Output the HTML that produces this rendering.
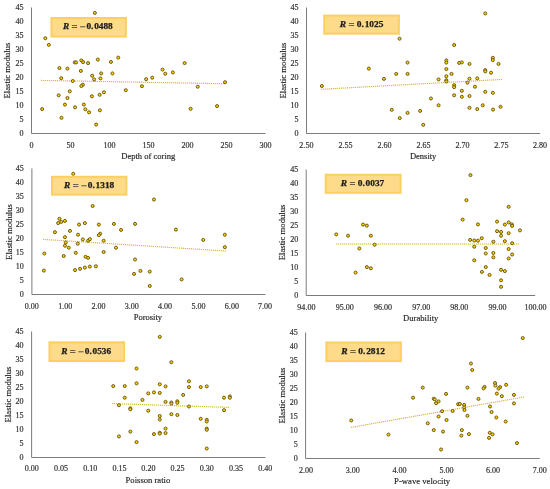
<!DOCTYPE html>
<html><head><meta charset="utf-8"><title>Correlation scatter plots</title>
<style>
html,body{margin:0;padding:0;background:#fff;}
svg{display:block}
text{font-family:"Liberation Serif","DejaVu Serif",serif;fill:#303030}
.t{font-size:8.05px;stroke:#303030;stroke-width:0.18}
.h{font-size:8.8px;fill:#222;stroke:#222;stroke-width:0.15}
.r{font-size:8.5px;font-weight:bold;fill:#1c1c1c;stroke:#1c1c1c;stroke-width:0.25}
.m{fill:#ffd000;stroke:#6b5b14;stroke-width:1.0}
.e{font-size:9.6px;font-weight:normal;stroke-width:0.25;fill:#3a3a3a;stroke:#3a3a3a}
.ax{stroke:#6c6c6c;stroke-width:0.9;fill:none}
.tr{fill:#d5bf40;stroke:none}
.tb{stroke:#f8f4d8;stroke-width:1.2;fill:none}
</style></head><body>
<svg width="550" height="489" viewBox="0 0 550 489">
<defs><filter id="g" x="-10%" y="-20%" width="120%" height="140%"><feGaussianBlur stdDeviation="0.6"/></filter><filter id="g2" x="-10%" y="-20%" width="120%" height="140%"><feGaussianBlur stdDeviation="0.5"/></filter></defs>
<rect width="550" height="489" fill="#fff"/>

<g>
<path class="ax" d="M31.5 7.5V133.5H265.5"/>
<text class="t" x="23.6" y="136.2" text-anchor="end">0</text>
<text class="t" x="23.6" y="122.1" text-anchor="end">5</text>
<text class="t" x="23.6" y="108.0" text-anchor="end">10</text>
<text class="t" x="23.6" y="94.0" text-anchor="end">15</text>
<text class="t" x="23.6" y="79.9" text-anchor="end">20</text>
<text class="t" x="23.6" y="65.8" text-anchor="end">25</text>
<text class="t" x="23.6" y="51.7" text-anchor="end">30</text>
<text class="t" x="23.6" y="37.6" text-anchor="end">35</text>
<text class="t" x="23.6" y="23.6" text-anchor="end">40</text>
<text class="t" x="23.6" y="9.5" text-anchor="end">45</text>
<text class="t" x="31.4" y="147.8" text-anchor="middle">0</text>
<text class="t" x="70.4" y="147.8" text-anchor="middle">50</text>
<text class="t" x="109.5" y="147.8" text-anchor="middle">100</text>
<text class="t" x="148.5" y="147.8" text-anchor="middle">150</text>
<text class="t" x="187.6" y="147.8" text-anchor="middle">200</text>
<text class="t" x="226.6" y="147.8" text-anchor="middle">250</text>
<text class="t" x="265.6" y="147.8" text-anchor="middle">300</text>
<text class="h" x="121.3" y="158.5" textLength="54.0" lengthAdjust="spacingAndGlyphs">Depth of coring</text>
<text class="h" transform="translate(7.6 70.6) rotate(-90)" x="-27.9" y="2.6" textLength="55.8" lengthAdjust="spacingAndGlyphs">Elastic modulus</text>
<path class="tb" d="M41.0 80.5L224.0 83.8"/>
<path class="tr" d="M41 79.8h1.1v1.1h-1.1zM43 79.9h1.1v1.1h-1.1zM45 79.9h1.1v1.1h-1.1zM47 79.9h1.1v1.1h-1.1zM49 80.0h1.1v1.1h-1.1zM51 80.0h1.1v1.1h-1.1zM53 80.1h1.1v1.1h-1.1zM55 80.1h1.1v1.1h-1.1zM57 80.1h1.1v1.1h-1.1zM59 80.2h1.1v1.1h-1.1zM61 80.2h1.1v1.1h-1.1zM63 80.2h1.1v1.1h-1.1zM65 80.3h1.1v1.1h-1.1zM67 80.3h1.1v1.1h-1.1zM69 80.3h1.1v1.1h-1.1zM71 80.4h1.1v1.1h-1.1zM73 80.4h1.1v1.1h-1.1zM75 80.5h1.1v1.1h-1.1zM77 80.5h1.1v1.1h-1.1zM79 80.5h1.1v1.1h-1.1zM81 80.6h1.1v1.1h-1.1zM83 80.6h1.1v1.1h-1.1zM85 80.6h1.1v1.1h-1.1zM87 80.7h1.1v1.1h-1.1zM89 80.7h1.1v1.1h-1.1zM91 80.7h1.1v1.1h-1.1zM93 80.8h1.1v1.1h-1.1zM95 80.8h1.1v1.1h-1.1zM97 80.9h1.1v1.1h-1.1zM99 80.9h1.1v1.1h-1.1zM101 80.9h1.1v1.1h-1.1zM103 81.0h1.1v1.1h-1.1zM105 81.0h1.1v1.1h-1.1zM107 81.0h1.1v1.1h-1.1zM109 81.1h1.1v1.1h-1.1zM111 81.1h1.1v1.1h-1.1zM113 81.1h1.1v1.1h-1.1zM115 81.2h1.1v1.1h-1.1zM117 81.2h1.1v1.1h-1.1zM119 81.3h1.1v1.1h-1.1zM121 81.3h1.1v1.1h-1.1zM123 81.3h1.1v1.1h-1.1zM125 81.4h1.1v1.1h-1.1zM127 81.4h1.1v1.1h-1.1zM129 81.4h1.1v1.1h-1.1zM131 81.5h1.1v1.1h-1.1zM133 81.5h1.1v1.1h-1.1zM135 81.5h1.1v1.1h-1.1zM137 81.6h1.1v1.1h-1.1zM139 81.6h1.1v1.1h-1.1zM141 81.6h1.1v1.1h-1.1zM143 81.7h1.1v1.1h-1.1zM145 81.7h1.1v1.1h-1.1zM147 81.8h1.1v1.1h-1.1zM149 81.8h1.1v1.1h-1.1zM151 81.8h1.1v1.1h-1.1zM153 81.9h1.1v1.1h-1.1zM155 81.9h1.1v1.1h-1.1zM157 81.9h1.1v1.1h-1.1zM159 82.0h1.1v1.1h-1.1zM161 82.0h1.1v1.1h-1.1zM163 82.0h1.1v1.1h-1.1zM165 82.1h1.1v1.1h-1.1zM167 82.1h1.1v1.1h-1.1zM169 82.2h1.1v1.1h-1.1zM171 82.2h1.1v1.1h-1.1zM173 82.2h1.1v1.1h-1.1zM175 82.3h1.1v1.1h-1.1zM177 82.3h1.1v1.1h-1.1zM179 82.3h1.1v1.1h-1.1zM181 82.4h1.1v1.1h-1.1zM183 82.4h1.1v1.1h-1.1zM185 82.4h1.1v1.1h-1.1zM187 82.5h1.1v1.1h-1.1zM189 82.5h1.1v1.1h-1.1zM191 82.6h1.1v1.1h-1.1zM193 82.6h1.1v1.1h-1.1zM195 82.6h1.1v1.1h-1.1zM197 82.7h1.1v1.1h-1.1zM199 82.7h1.1v1.1h-1.1zM201 82.7h1.1v1.1h-1.1zM203 82.8h1.1v1.1h-1.1zM205 82.8h1.1v1.1h-1.1zM207 82.8h1.1v1.1h-1.1zM209 82.9h1.1v1.1h-1.1zM211 82.9h1.1v1.1h-1.1zM213 83.0h1.1v1.1h-1.1zM215 83.0h1.1v1.1h-1.1zM217 83.0h1.1v1.1h-1.1zM219 83.1h1.1v1.1h-1.1zM221 83.1h1.1v1.1h-1.1zM223 83.1h1.1v1.1h-1.1z"/>
<circle class="m" cx="94.85" cy="12.90" r="1.52"/>
<circle class="m" cx="45.35" cy="38.20" r="1.52"/>
<circle class="m" cx="48.85" cy="44.80" r="1.52"/>
<circle class="m" cx="118.25" cy="57.60" r="1.52"/>
<circle class="m" cx="97.85" cy="59.60" r="1.52"/>
<circle class="m" cx="110.95" cy="61.90" r="1.52"/>
<circle class="m" cx="81.35" cy="60.40" r="1.52"/>
<circle class="m" cx="83.05" cy="62.10" r="1.52"/>
<circle class="m" cx="88.05" cy="63.10" r="1.52"/>
<circle class="m" cx="74.75" cy="62.40" r="1.52"/>
<circle class="m" cx="76.05" cy="62.40" r="1.52"/>
<circle class="m" cx="59.45" cy="68.10" r="1.52"/>
<circle class="m" cx="67.45" cy="68.60" r="1.52"/>
<circle class="m" cx="80.85" cy="70.90" r="1.52"/>
<circle class="m" cx="101.15" cy="73.40" r="1.52"/>
<circle class="m" cx="112.45" cy="73.40" r="1.52"/>
<circle class="m" cx="92.15" cy="75.70" r="1.52"/>
<circle class="m" cx="61.25" cy="78.20" r="1.52"/>
<circle class="m" cx="100.45" cy="78.40" r="1.52"/>
<circle class="m" cx="94.15" cy="79.40" r="1.52"/>
<circle class="m" cx="72.75" cy="81.00" r="1.52"/>
<circle class="m" cx="82.85" cy="84.70" r="1.52"/>
<circle class="m" cx="81.35" cy="86.00" r="1.52"/>
<circle class="m" cx="125.75" cy="90.20" r="1.52"/>
<circle class="m" cx="69.75" cy="91.30" r="1.52"/>
<circle class="m" cx="103.95" cy="92.30" r="1.52"/>
<circle class="m" cx="99.65" cy="94.80" r="1.52"/>
<circle class="m" cx="58.65" cy="95.30" r="1.52"/>
<circle class="m" cx="91.85" cy="96.30" r="1.52"/>
<circle class="m" cx="67.45" cy="98.00" r="1.52"/>
<circle class="m" cx="64.95" cy="104.60" r="1.52"/>
<circle class="m" cx="83.85" cy="104.60" r="1.52"/>
<circle class="m" cx="75.05" cy="107.30" r="1.52"/>
<circle class="m" cx="42.15" cy="109.10" r="1.52"/>
<circle class="m" cx="85.35" cy="109.30" r="1.52"/>
<circle class="m" cx="99.85" cy="110.30" r="1.52"/>
<circle class="m" cx="89.05" cy="112.30" r="1.52"/>
<circle class="m" cx="61.45" cy="117.80" r="1.52"/>
<circle class="m" cx="96.15" cy="124.50" r="1.52"/>
<circle class="m" cx="184.65" cy="63.10" r="1.52"/>
<circle class="m" cx="162.55" cy="69.60" r="1.52"/>
<circle class="m" cx="172.85" cy="72.40" r="1.52"/>
<circle class="m" cx="165.25" cy="73.70" r="1.52"/>
<circle class="m" cx="152.25" cy="77.70" r="1.52"/>
<circle class="m" cx="146.15" cy="79.20" r="1.52"/>
<circle class="m" cx="225.05" cy="82.20" r="1.52"/>
<circle class="m" cx="141.95" cy="86.20" r="1.52"/>
<circle class="m" cx="197.75" cy="86.70" r="1.52"/>
<circle class="m" cx="217.05" cy="106.10" r="1.52"/>
<circle class="m" cx="190.65" cy="108.80" r="1.52"/>
<rect x="50.4" y="17.0" width="76.5" height="20.6" fill="#fccf63" filter="url(#g)"/>
<rect x="52.4" y="19.0" width="72.5" height="16.6" fill="#fddb8b" filter="url(#g2)"/>
<text class="r" x="62.9" y="29.1" textLength="49.9" lengthAdjust="spacingAndGlyphs"><tspan font-style="italic">R</tspan> <tspan class="e" dy="1.0">=</tspan><tspan dy="-1.0"> </tspan><tspan class="e" dy="1.0">−</tspan><tspan dy="-1.0"> </tspan>0. 0488</text>
</g>
<g>
<path class="ax" d="M306.5 7.5V133.5H540.2"/>
<text class="t" x="298.6" y="135.8" text-anchor="end">0</text>
<text class="t" x="298.6" y="121.8" text-anchor="end">5</text>
<text class="t" x="298.6" y="107.8" text-anchor="end">10</text>
<text class="t" x="298.6" y="93.8" text-anchor="end">15</text>
<text class="t" x="298.6" y="79.8" text-anchor="end">20</text>
<text class="t" x="298.6" y="65.8" text-anchor="end">25</text>
<text class="t" x="298.6" y="51.9" text-anchor="end">30</text>
<text class="t" x="298.6" y="37.9" text-anchor="end">35</text>
<text class="t" x="298.6" y="23.9" text-anchor="end">40</text>
<text class="t" x="298.6" y="9.9" text-anchor="end">45</text>
<text class="t" x="306.4" y="148.1" text-anchor="middle">2.50</text>
<text class="t" x="345.5" y="148.1" text-anchor="middle">2.55</text>
<text class="t" x="384.5" y="148.1" text-anchor="middle">2.60</text>
<text class="t" x="423.5" y="148.1" text-anchor="middle">2.65</text>
<text class="t" x="462.5" y="148.1" text-anchor="middle">2.70</text>
<text class="t" x="501.4" y="148.1" text-anchor="middle">2.75</text>
<text class="t" x="540.0" y="148.1" text-anchor="middle">2.80</text>
<text class="h" x="409.9" y="158.5" textLength="26.5" lengthAdjust="spacingAndGlyphs">Density</text>
<text class="h" transform="translate(282.9 70.6) rotate(-90)" x="-27.9" y="2.6" textLength="55.8" lengthAdjust="spacingAndGlyphs">Elastic modulus</text>
<path class="tb" d="M321.0 89.3L502.0 79.5"/>
<path class="tr" d="M321 88.7h1.1v1.1h-1.1zM323 88.6h1.1v1.1h-1.1zM325 88.5h1.1v1.1h-1.1zM327 88.4h1.1v1.1h-1.1zM329 88.3h1.1v1.1h-1.1zM331 88.1h1.1v1.1h-1.1zM333 88.0h1.1v1.1h-1.1zM335 87.9h1.1v1.1h-1.1zM337 87.8h1.1v1.1h-1.1zM339 87.7h1.1v1.1h-1.1zM341 87.6h1.1v1.1h-1.1zM343 87.5h1.1v1.1h-1.1zM345 87.4h1.1v1.1h-1.1zM347 87.3h1.1v1.1h-1.1zM349 87.2h1.1v1.1h-1.1zM351 87.1h1.1v1.1h-1.1zM353 86.9h1.1v1.1h-1.1zM355 86.8h1.1v1.1h-1.1zM357 86.7h1.1v1.1h-1.1zM359 86.6h1.1v1.1h-1.1zM361 86.5h1.1v1.1h-1.1zM363 86.4h1.1v1.1h-1.1zM365 86.3h1.1v1.1h-1.1zM367 86.2h1.1v1.1h-1.1zM369 86.1h1.1v1.1h-1.1zM371 86.0h1.1v1.1h-1.1zM373 85.8h1.1v1.1h-1.1zM375 85.7h1.1v1.1h-1.1zM377 85.6h1.1v1.1h-1.1zM379 85.5h1.1v1.1h-1.1zM381 85.4h1.1v1.1h-1.1zM383 85.3h1.1v1.1h-1.1zM385 85.2h1.1v1.1h-1.1zM387 85.1h1.1v1.1h-1.1zM389 85.0h1.1v1.1h-1.1zM391 84.9h1.1v1.1h-1.1zM393 84.8h1.1v1.1h-1.1zM395 84.6h1.1v1.1h-1.1zM397 84.5h1.1v1.1h-1.1zM399 84.4h1.1v1.1h-1.1zM401 84.3h1.1v1.1h-1.1zM403 84.2h1.1v1.1h-1.1zM405 84.1h1.1v1.1h-1.1zM407 84.0h1.1v1.1h-1.1zM409 83.9h1.1v1.1h-1.1zM411 83.8h1.1v1.1h-1.1zM413 83.7h1.1v1.1h-1.1zM415 83.6h1.1v1.1h-1.1zM417 83.4h1.1v1.1h-1.1zM419 83.3h1.1v1.1h-1.1zM421 83.2h1.1v1.1h-1.1zM423 83.1h1.1v1.1h-1.1zM425 83.0h1.1v1.1h-1.1zM427 82.9h1.1v1.1h-1.1zM429 82.8h1.1v1.1h-1.1zM431 82.7h1.1v1.1h-1.1zM433 82.6h1.1v1.1h-1.1zM435 82.5h1.1v1.1h-1.1zM437 82.4h1.1v1.1h-1.1zM439 82.2h1.1v1.1h-1.1zM441 82.1h1.1v1.1h-1.1zM443 82.0h1.1v1.1h-1.1zM445 81.9h1.1v1.1h-1.1zM447 81.8h1.1v1.1h-1.1zM449 81.7h1.1v1.1h-1.1zM451 81.6h1.1v1.1h-1.1zM453 81.5h1.1v1.1h-1.1zM455 81.4h1.1v1.1h-1.1zM457 81.3h1.1v1.1h-1.1zM459 81.2h1.1v1.1h-1.1zM461 81.0h1.1v1.1h-1.1zM463 80.9h1.1v1.1h-1.1zM465 80.8h1.1v1.1h-1.1zM467 80.7h1.1v1.1h-1.1zM469 80.6h1.1v1.1h-1.1zM471 80.5h1.1v1.1h-1.1zM473 80.4h1.1v1.1h-1.1zM475 80.3h1.1v1.1h-1.1zM477 80.2h1.1v1.1h-1.1zM479 80.1h1.1v1.1h-1.1zM481 80.0h1.1v1.1h-1.1zM483 79.8h1.1v1.1h-1.1zM485 79.7h1.1v1.1h-1.1zM487 79.6h1.1v1.1h-1.1zM489 79.5h1.1v1.1h-1.1zM491 79.4h1.1v1.1h-1.1zM493 79.3h1.1v1.1h-1.1zM495 79.2h1.1v1.1h-1.1zM497 79.1h1.1v1.1h-1.1zM499 79.0h1.1v1.1h-1.1zM501 78.9h1.1v1.1h-1.1z"/>
<circle class="m" cx="399.55" cy="38.70" r="1.52"/>
<circle class="m" cx="407.55" cy="62.60" r="1.52"/>
<circle class="m" cx="368.85" cy="68.60" r="1.52"/>
<circle class="m" cx="396.25" cy="73.90" r="1.52"/>
<circle class="m" cx="407.55" cy="73.90" r="1.52"/>
<circle class="m" cx="383.95" cy="78.90" r="1.52"/>
<circle class="m" cx="321.85" cy="86.00" r="1.52"/>
<circle class="m" cx="391.75" cy="109.80" r="1.52"/>
<circle class="m" cx="407.55" cy="112.90" r="1.52"/>
<circle class="m" cx="399.75" cy="118.10" r="1.52"/>
<circle class="m" cx="485.25" cy="13.40" r="1.52"/>
<circle class="m" cx="454.15" cy="45.00" r="1.52"/>
<circle class="m" cx="492.85" cy="57.80" r="1.52"/>
<circle class="m" cx="492.85" cy="60.10" r="1.52"/>
<circle class="m" cx="446.35" cy="60.40" r="1.52"/>
<circle class="m" cx="446.35" cy="62.60" r="1.52"/>
<circle class="m" cx="459.15" cy="62.90" r="1.52"/>
<circle class="m" cx="461.85" cy="62.40" r="1.52"/>
<circle class="m" cx="469.45" cy="63.90" r="1.52"/>
<circle class="m" cx="498.55" cy="63.90" r="1.52"/>
<circle class="m" cx="446.35" cy="69.10" r="1.52"/>
<circle class="m" cx="485.25" cy="70.10" r="1.52"/>
<circle class="m" cx="485.25" cy="71.40" r="1.52"/>
<circle class="m" cx="491.05" cy="72.70" r="1.52"/>
<circle class="m" cx="451.55" cy="73.90" r="1.52"/>
<circle class="m" cx="446.35" cy="76.20" r="1.52"/>
<circle class="m" cx="438.55" cy="79.40" r="1.52"/>
<circle class="m" cx="469.45" cy="78.70" r="1.52"/>
<circle class="m" cx="477.25" cy="78.40" r="1.52"/>
<circle class="m" cx="446.35" cy="80.20" r="1.52"/>
<circle class="m" cx="446.35" cy="81.50" r="1.52"/>
<circle class="m" cx="467.45" cy="82.70" r="1.52"/>
<circle class="m" cx="454.15" cy="85.20" r="1.52"/>
<circle class="m" cx="454.15" cy="87.20" r="1.52"/>
<circle class="m" cx="474.95" cy="86.70" r="1.52"/>
<circle class="m" cx="461.85" cy="90.80" r="1.52"/>
<circle class="m" cx="485.25" cy="91.80" r="1.52"/>
<circle class="m" cx="492.85" cy="92.80" r="1.52"/>
<circle class="m" cx="454.15" cy="95.30" r="1.52"/>
<circle class="m" cx="461.85" cy="96.80" r="1.52"/>
<circle class="m" cx="469.45" cy="96.00" r="1.52"/>
<circle class="m" cx="430.95" cy="98.50" r="1.52"/>
<circle class="m" cx="438.55" cy="105.30" r="1.52"/>
<circle class="m" cx="482.75" cy="105.30" r="1.52"/>
<circle class="m" cx="500.55" cy="106.80" r="1.52"/>
<circle class="m" cx="469.45" cy="107.80" r="1.52"/>
<circle class="m" cx="477.25" cy="109.10" r="1.52"/>
<circle class="m" cx="493.05" cy="109.60" r="1.52"/>
<circle class="m" cx="420.15" cy="110.90" r="1.52"/>
<circle class="m" cx="423.25" cy="124.80" r="1.52"/>
<rect x="323.2" y="14.6" width="76.7" height="20.1" fill="#fccf63" filter="url(#g)"/>
<rect x="325.2" y="16.6" width="72.7" height="16.1" fill="#fddb8b" filter="url(#g2)"/>
<text class="r" x="339.8" y="27.0" textLength="43.7" lengthAdjust="spacingAndGlyphs"><tspan font-style="italic">R</tspan> <tspan class="e" dy="1.0">=</tspan><tspan dy="-1.0"> </tspan>0. 1025</text>
</g>
<g>
<path class="ax" d="M31.9 168.4V294.5H265.5"/>
<text class="t" x="23.7" y="296.8" text-anchor="end">0</text>
<text class="t" x="23.7" y="282.9" text-anchor="end">5</text>
<text class="t" x="23.7" y="268.9" text-anchor="end">10</text>
<text class="t" x="23.7" y="255.0" text-anchor="end">15</text>
<text class="t" x="23.7" y="241.0" text-anchor="end">20</text>
<text class="t" x="23.7" y="227.1" text-anchor="end">25</text>
<text class="t" x="23.7" y="213.2" text-anchor="end">30</text>
<text class="t" x="23.7" y="199.2" text-anchor="end">35</text>
<text class="t" x="23.7" y="185.3" text-anchor="end">40</text>
<text class="t" x="23.7" y="171.3" text-anchor="end">45</text>
<text class="t" x="31.7" y="308.9" text-anchor="middle">0.00</text>
<text class="t" x="65.2" y="308.9" text-anchor="middle">1.00</text>
<text class="t" x="98.5" y="308.9" text-anchor="middle">2.00</text>
<text class="t" x="131.8" y="308.9" text-anchor="middle">3.00</text>
<text class="t" x="165.1" y="308.9" text-anchor="middle">4.00</text>
<text class="t" x="198.5" y="308.9" text-anchor="middle">5.00</text>
<text class="t" x="231.9" y="308.9" text-anchor="middle">6.00</text>
<text class="t" x="265.0" y="308.9" text-anchor="middle">7.00</text>
<text class="h" x="133.7" y="320.0" textLength="28.4" lengthAdjust="spacingAndGlyphs">Porosity</text>
<text class="h" transform="translate(8.9 232.0) rotate(-90)" x="-27.9" y="2.6" textLength="55.8" lengthAdjust="spacingAndGlyphs">Elastic modulus</text>
<path class="tb" d="M43.0 239.5L226.0 251.1"/>
<path class="tr" d="M43 238.8h1.1v1.1h-1.1zM45 239.0h1.1v1.1h-1.1zM47 239.1h1.1v1.1h-1.1zM49 239.2h1.1v1.1h-1.1zM51 239.3h1.1v1.1h-1.1zM53 239.5h1.1v1.1h-1.1zM55 239.6h1.1v1.1h-1.1zM57 239.7h1.1v1.1h-1.1zM59 239.9h1.1v1.1h-1.1zM61 240.0h1.1v1.1h-1.1zM63 240.1h1.1v1.1h-1.1zM65 240.2h1.1v1.1h-1.1zM67 240.4h1.1v1.1h-1.1zM69 240.5h1.1v1.1h-1.1zM71 240.6h1.1v1.1h-1.1zM73 240.7h1.1v1.1h-1.1zM75 240.9h1.1v1.1h-1.1zM77 241.0h1.1v1.1h-1.1zM79 241.1h1.1v1.1h-1.1zM81 241.3h1.1v1.1h-1.1zM83 241.4h1.1v1.1h-1.1zM85 241.5h1.1v1.1h-1.1zM87 241.6h1.1v1.1h-1.1zM89 241.8h1.1v1.1h-1.1zM91 241.9h1.1v1.1h-1.1zM93 242.0h1.1v1.1h-1.1zM95 242.1h1.1v1.1h-1.1zM97 242.3h1.1v1.1h-1.1zM99 242.4h1.1v1.1h-1.1zM101 242.5h1.1v1.1h-1.1zM103 242.7h1.1v1.1h-1.1zM105 242.8h1.1v1.1h-1.1zM107 242.9h1.1v1.1h-1.1zM109 243.0h1.1v1.1h-1.1zM111 243.2h1.1v1.1h-1.1zM113 243.3h1.1v1.1h-1.1zM115 243.4h1.1v1.1h-1.1zM117 243.5h1.1v1.1h-1.1zM119 243.7h1.1v1.1h-1.1zM121 243.8h1.1v1.1h-1.1zM123 243.9h1.1v1.1h-1.1zM125 244.1h1.1v1.1h-1.1zM127 244.2h1.1v1.1h-1.1zM129 244.3h1.1v1.1h-1.1zM131 244.4h1.1v1.1h-1.1zM133 244.6h1.1v1.1h-1.1zM135 244.7h1.1v1.1h-1.1zM137 244.8h1.1v1.1h-1.1zM139 244.9h1.1v1.1h-1.1zM141 245.1h1.1v1.1h-1.1zM143 245.2h1.1v1.1h-1.1zM145 245.3h1.1v1.1h-1.1zM147 245.5h1.1v1.1h-1.1zM149 245.6h1.1v1.1h-1.1zM151 245.7h1.1v1.1h-1.1zM153 245.8h1.1v1.1h-1.1zM155 246.0h1.1v1.1h-1.1zM157 246.1h1.1v1.1h-1.1zM159 246.2h1.1v1.1h-1.1zM161 246.3h1.1v1.1h-1.1zM163 246.5h1.1v1.1h-1.1zM165 246.6h1.1v1.1h-1.1zM167 246.7h1.1v1.1h-1.1zM169 246.9h1.1v1.1h-1.1zM171 247.0h1.1v1.1h-1.1zM173 247.1h1.1v1.1h-1.1zM175 247.2h1.1v1.1h-1.1zM177 247.4h1.1v1.1h-1.1zM179 247.5h1.1v1.1h-1.1zM181 247.6h1.1v1.1h-1.1zM183 247.8h1.1v1.1h-1.1zM185 247.9h1.1v1.1h-1.1zM187 248.0h1.1v1.1h-1.1zM189 248.1h1.1v1.1h-1.1zM191 248.3h1.1v1.1h-1.1zM193 248.4h1.1v1.1h-1.1zM195 248.5h1.1v1.1h-1.1zM197 248.6h1.1v1.1h-1.1zM199 248.8h1.1v1.1h-1.1zM201 248.9h1.1v1.1h-1.1zM203 249.0h1.1v1.1h-1.1zM205 249.2h1.1v1.1h-1.1zM207 249.3h1.1v1.1h-1.1zM209 249.4h1.1v1.1h-1.1zM211 249.5h1.1v1.1h-1.1zM213 249.7h1.1v1.1h-1.1zM215 249.8h1.1v1.1h-1.1zM217 249.9h1.1v1.1h-1.1zM219 250.0h1.1v1.1h-1.1zM221 250.2h1.1v1.1h-1.1zM223 250.3h1.1v1.1h-1.1zM225 250.4h1.1v1.1h-1.1z"/>
<circle class="m" cx="73.25" cy="173.80" r="1.52"/>
<circle class="m" cx="92.65" cy="206.00" r="1.52"/>
<circle class="m" cx="59.45" cy="218.80" r="1.52"/>
<circle class="m" cx="58.15" cy="223.10" r="1.52"/>
<circle class="m" cx="61.25" cy="221.90" r="1.52"/>
<circle class="m" cx="64.95" cy="220.90" r="1.52"/>
<circle class="m" cx="84.85" cy="223.10" r="1.52"/>
<circle class="m" cx="79.05" cy="224.60" r="1.52"/>
<circle class="m" cx="98.85" cy="224.60" r="1.52"/>
<circle class="m" cx="113.95" cy="223.90" r="1.52"/>
<circle class="m" cx="135.05" cy="223.90" r="1.52"/>
<circle class="m" cx="121.05" cy="229.90" r="1.52"/>
<circle class="m" cx="69.95" cy="230.90" r="1.52"/>
<circle class="m" cx="54.95" cy="232.20" r="1.52"/>
<circle class="m" cx="78.05" cy="234.70" r="1.52"/>
<circle class="m" cx="100.15" cy="233.70" r="1.52"/>
<circle class="m" cx="98.85" cy="235.20" r="1.52"/>
<circle class="m" cx="64.95" cy="237.20" r="1.52"/>
<circle class="m" cx="82.85" cy="239.40" r="1.52"/>
<circle class="m" cx="88.05" cy="240.70" r="1.52"/>
<circle class="m" cx="89.85" cy="239.20" r="1.52"/>
<circle class="m" cx="103.65" cy="240.70" r="1.52"/>
<circle class="m" cx="65.75" cy="242.50" r="1.52"/>
<circle class="m" cx="77.75" cy="243.70" r="1.52"/>
<circle class="m" cx="64.95" cy="245.70" r="1.52"/>
<circle class="m" cx="68.75" cy="247.70" r="1.52"/>
<circle class="m" cx="115.95" cy="247.70" r="1.52"/>
<circle class="m" cx="75.75" cy="252.80" r="1.52"/>
<circle class="m" cx="103.65" cy="252.00" r="1.52"/>
<circle class="m" cx="44.35" cy="253.50" r="1.52"/>
<circle class="m" cx="63.75" cy="256.00" r="1.52"/>
<circle class="m" cx="85.55" cy="256.80" r="1.52"/>
<circle class="m" cx="88.05" cy="257.80" r="1.52"/>
<circle class="m" cx="135.05" cy="259.50" r="1.52"/>
<circle class="m" cx="95.85" cy="266.30" r="1.52"/>
<circle class="m" cx="89.85" cy="266.60" r="1.52"/>
<circle class="m" cx="84.85" cy="267.60" r="1.52"/>
<circle class="m" cx="80.05" cy="268.80" r="1.52"/>
<circle class="m" cx="75.05" cy="270.10" r="1.52"/>
<circle class="m" cx="43.85" cy="270.60" r="1.52"/>
<circle class="m" cx="134.05" cy="273.90" r="1.52"/>
<circle class="m" cx="153.95" cy="199.50" r="1.52"/>
<circle class="m" cx="175.85" cy="229.60" r="1.52"/>
<circle class="m" cx="224.85" cy="234.70" r="1.52"/>
<circle class="m" cx="203.25" cy="239.90" r="1.52"/>
<circle class="m" cx="224.85" cy="247.20" r="1.52"/>
<circle class="m" cx="140.45" cy="270.90" r="1.52"/>
<circle class="m" cx="149.75" cy="271.60" r="1.52"/>
<circle class="m" cx="181.65" cy="279.40" r="1.52"/>
<circle class="m" cx="149.75" cy="286.00" r="1.52"/>
<rect x="51.0" y="175.8" width="76.4" height="19.9" fill="#fccf63" filter="url(#g)"/>
<rect x="53.0" y="177.8" width="72.4" height="15.9" fill="#fddb8b" filter="url(#g2)"/>
<text class="r" x="64.1" y="187.7" textLength="50.2" lengthAdjust="spacingAndGlyphs"><tspan font-style="italic">R</tspan> <tspan class="e" dy="1.0">=</tspan><tspan dy="-1.0"> </tspan><tspan class="e" dy="1.0">−</tspan><tspan dy="-1.0"> </tspan>0. 1318</text>
</g>
<g>
<path class="ax" d="M306.2 169.5V295.5H535.2"/>
<text class="t" x="298.2" y="298.2" text-anchor="end">0</text>
<text class="t" x="298.2" y="284.2" text-anchor="end">5</text>
<text class="t" x="298.2" y="270.1" text-anchor="end">10</text>
<text class="t" x="298.2" y="256.1" text-anchor="end">15</text>
<text class="t" x="298.2" y="242.0" text-anchor="end">20</text>
<text class="t" x="298.2" y="228.0" text-anchor="end">25</text>
<text class="t" x="298.2" y="214.0" text-anchor="end">30</text>
<text class="t" x="298.2" y="199.9" text-anchor="end">35</text>
<text class="t" x="298.2" y="185.9" text-anchor="end">40</text>
<text class="t" x="298.2" y="171.8" text-anchor="end">45</text>
<text class="t" x="306.4" y="309.7" text-anchor="middle">94.00</text>
<text class="t" x="344.7" y="309.7" text-anchor="middle">95.00</text>
<text class="t" x="383.1" y="309.7" text-anchor="middle">96.00</text>
<text class="t" x="421.2" y="309.7" text-anchor="middle">97.00</text>
<text class="t" x="459.3" y="309.7" text-anchor="middle">98.00</text>
<text class="t" x="497.5" y="309.7" text-anchor="middle">99.00</text>
<text class="t" x="535.5" y="309.7" text-anchor="middle">100.00</text>
<text class="h" x="403.1" y="321.0" textLength="35.3" lengthAdjust="spacingAndGlyphs">Durability</text>
<text class="h" transform="translate(282.6 232.4) rotate(-90)" x="-27.9" y="2.6" textLength="55.8" lengthAdjust="spacingAndGlyphs">Elastic modulus</text>
<path class="tb" d="M336.0 244.2L519.0 244.2"/>
<path class="tr" d="M336 243.5h1.1v1.1h-1.1zM338 243.5h1.1v1.1h-1.1zM340 243.5h1.1v1.1h-1.1zM342 243.5h1.1v1.1h-1.1zM344 243.5h1.1v1.1h-1.1zM346 243.5h1.1v1.1h-1.1zM348 243.5h1.1v1.1h-1.1zM350 243.5h1.1v1.1h-1.1zM352 243.5h1.1v1.1h-1.1zM354 243.5h1.1v1.1h-1.1zM356 243.5h1.1v1.1h-1.1zM358 243.5h1.1v1.1h-1.1zM360 243.5h1.1v1.1h-1.1zM362 243.5h1.1v1.1h-1.1zM364 243.5h1.1v1.1h-1.1zM366 243.5h1.1v1.1h-1.1zM368 243.5h1.1v1.1h-1.1zM370 243.5h1.1v1.1h-1.1zM372 243.5h1.1v1.1h-1.1zM374 243.5h1.1v1.1h-1.1zM376 243.5h1.1v1.1h-1.1zM378 243.5h1.1v1.1h-1.1zM380 243.5h1.1v1.1h-1.1zM382 243.5h1.1v1.1h-1.1zM384 243.5h1.1v1.1h-1.1zM386 243.5h1.1v1.1h-1.1zM388 243.5h1.1v1.1h-1.1zM390 243.5h1.1v1.1h-1.1zM392 243.5h1.1v1.1h-1.1zM394 243.5h1.1v1.1h-1.1zM396 243.5h1.1v1.1h-1.1zM398 243.5h1.1v1.1h-1.1zM400 243.5h1.1v1.1h-1.1zM402 243.5h1.1v1.1h-1.1zM404 243.5h1.1v1.1h-1.1zM406 243.5h1.1v1.1h-1.1zM408 243.5h1.1v1.1h-1.1zM410 243.5h1.1v1.1h-1.1zM412 243.5h1.1v1.1h-1.1zM414 243.5h1.1v1.1h-1.1zM416 243.5h1.1v1.1h-1.1zM418 243.5h1.1v1.1h-1.1zM420 243.5h1.1v1.1h-1.1zM422 243.5h1.1v1.1h-1.1zM424 243.5h1.1v1.1h-1.1zM426 243.5h1.1v1.1h-1.1zM428 243.5h1.1v1.1h-1.1zM430 243.5h1.1v1.1h-1.1zM432 243.5h1.1v1.1h-1.1zM434 243.5h1.1v1.1h-1.1zM436 243.5h1.1v1.1h-1.1zM438 243.5h1.1v1.1h-1.1zM440 243.5h1.1v1.1h-1.1zM442 243.5h1.1v1.1h-1.1zM444 243.5h1.1v1.1h-1.1zM446 243.5h1.1v1.1h-1.1zM448 243.5h1.1v1.1h-1.1zM450 243.5h1.1v1.1h-1.1zM452 243.5h1.1v1.1h-1.1zM454 243.5h1.1v1.1h-1.1zM456 243.5h1.1v1.1h-1.1zM458 243.5h1.1v1.1h-1.1zM460 243.5h1.1v1.1h-1.1zM462 243.5h1.1v1.1h-1.1zM464 243.5h1.1v1.1h-1.1zM466 243.5h1.1v1.1h-1.1zM468 243.5h1.1v1.1h-1.1zM470 243.5h1.1v1.1h-1.1zM472 243.5h1.1v1.1h-1.1zM474 243.5h1.1v1.1h-1.1zM476 243.5h1.1v1.1h-1.1zM478 243.5h1.1v1.1h-1.1zM480 243.5h1.1v1.1h-1.1zM482 243.5h1.1v1.1h-1.1zM484 243.5h1.1v1.1h-1.1zM486 243.5h1.1v1.1h-1.1zM488 243.5h1.1v1.1h-1.1zM490 243.5h1.1v1.1h-1.1zM492 243.5h1.1v1.1h-1.1zM494 243.5h1.1v1.1h-1.1zM496 243.5h1.1v1.1h-1.1zM498 243.5h1.1v1.1h-1.1zM500 243.5h1.1v1.1h-1.1zM502 243.5h1.1v1.1h-1.1zM504 243.5h1.1v1.1h-1.1zM506 243.5h1.1v1.1h-1.1zM508 243.5h1.1v1.1h-1.1zM510 243.5h1.1v1.1h-1.1zM512 243.5h1.1v1.1h-1.1zM514 243.5h1.1v1.1h-1.1zM516 243.5h1.1v1.1h-1.1zM518 243.5h1.1v1.1h-1.1z"/>
<circle class="m" cx="363.05" cy="224.60" r="1.52"/>
<circle class="m" cx="366.85" cy="225.60" r="1.52"/>
<circle class="m" cx="336.25" cy="234.40" r="1.52"/>
<circle class="m" cx="348.05" cy="235.70" r="1.52"/>
<circle class="m" cx="370.85" cy="235.70" r="1.52"/>
<circle class="m" cx="374.65" cy="244.70" r="1.52"/>
<circle class="m" cx="359.35" cy="248.50" r="1.52"/>
<circle class="m" cx="366.85" cy="267.10" r="1.52"/>
<circle class="m" cx="370.85" cy="268.30" r="1.52"/>
<circle class="m" cx="355.55" cy="272.60" r="1.52"/>
<circle class="m" cx="470.45" cy="175.10" r="1.52"/>
<circle class="m" cx="466.45" cy="200.20" r="1.52"/>
<circle class="m" cx="508.65" cy="206.80" r="1.52"/>
<circle class="m" cx="462.65" cy="219.60" r="1.52"/>
<circle class="m" cx="497.05" cy="221.60" r="1.52"/>
<circle class="m" cx="508.65" cy="222.40" r="1.52"/>
<circle class="m" cx="477.95" cy="224.40" r="1.52"/>
<circle class="m" cx="504.85" cy="224.60" r="1.52"/>
<circle class="m" cx="511.85" cy="224.40" r="1.52"/>
<circle class="m" cx="512.15" cy="225.90" r="1.52"/>
<circle class="m" cx="519.95" cy="230.40" r="1.52"/>
<circle class="m" cx="497.05" cy="231.20" r="1.52"/>
<circle class="m" cx="501.05" cy="231.90" r="1.52"/>
<circle class="m" cx="508.65" cy="233.20" r="1.52"/>
<circle class="m" cx="501.05" cy="235.70" r="1.52"/>
<circle class="m" cx="481.75" cy="238.20" r="1.52"/>
<circle class="m" cx="470.15" cy="239.90" r="1.52"/>
<circle class="m" cx="474.25" cy="240.50" r="1.52"/>
<circle class="m" cx="477.95" cy="240.70" r="1.52"/>
<circle class="m" cx="493.35" cy="241.70" r="1.52"/>
<circle class="m" cx="504.85" cy="241.20" r="1.52"/>
<circle class="m" cx="512.15" cy="243.20" r="1.52"/>
<circle class="m" cx="474.25" cy="246.70" r="1.52"/>
<circle class="m" cx="485.75" cy="248.00" r="1.52"/>
<circle class="m" cx="508.65" cy="249.00" r="1.52"/>
<circle class="m" cx="485.75" cy="253.50" r="1.52"/>
<circle class="m" cx="493.35" cy="253.00" r="1.52"/>
<circle class="m" cx="512.15" cy="254.50" r="1.52"/>
<circle class="m" cx="493.35" cy="257.30" r="1.52"/>
<circle class="m" cx="508.65" cy="258.50" r="1.52"/>
<circle class="m" cx="474.25" cy="260.30" r="1.52"/>
<circle class="m" cx="485.75" cy="267.10" r="1.52"/>
<circle class="m" cx="501.05" cy="269.80" r="1.52"/>
<circle class="m" cx="504.85" cy="271.10" r="1.52"/>
<circle class="m" cx="481.95" cy="271.90" r="1.52"/>
<circle class="m" cx="489.55" cy="274.90" r="1.52"/>
<circle class="m" cx="501.05" cy="280.30" r="1.52"/>
<circle class="m" cx="501.05" cy="286.80" r="1.52"/>
<rect x="324.7" y="173.7" width="76.9" height="20.1" fill="#fccf63" filter="url(#g)"/>
<rect x="326.7" y="175.7" width="72.9" height="16.1" fill="#fddb8b" filter="url(#g2)"/>
<text class="r" x="340.8" y="185.9" textLength="43.5" lengthAdjust="spacingAndGlyphs"><tspan font-style="italic">R</tspan> <tspan class="e" dy="1.0">=</tspan><tspan dy="-1.0"> </tspan>0. 0037</text>
</g>
<g>
<path class="ax" d="M31.6 331.5V457.5H265.5"/>
<text class="t" x="23.6" y="459.8" text-anchor="end">0</text>
<text class="t" x="23.6" y="445.9" text-anchor="end">5</text>
<text class="t" x="23.6" y="431.9" text-anchor="end">10</text>
<text class="t" x="23.6" y="418.0" text-anchor="end">15</text>
<text class="t" x="23.6" y="404.0" text-anchor="end">20</text>
<text class="t" x="23.6" y="390.1" text-anchor="end">25</text>
<text class="t" x="23.6" y="376.2" text-anchor="end">30</text>
<text class="t" x="23.6" y="362.2" text-anchor="end">35</text>
<text class="t" x="23.6" y="348.3" text-anchor="end">40</text>
<text class="t" x="23.6" y="334.3" text-anchor="end">45</text>
<text class="t" x="31.7" y="471.3" text-anchor="middle">0.00</text>
<text class="t" x="61.0" y="471.3" text-anchor="middle">0.05</text>
<text class="t" x="90.2" y="471.3" text-anchor="middle">0.10</text>
<text class="t" x="119.5" y="471.3" text-anchor="middle">0.15</text>
<text class="t" x="148.4" y="471.3" text-anchor="middle">0.20</text>
<text class="t" x="177.5" y="471.3" text-anchor="middle">0.25</text>
<text class="t" x="206.8" y="471.3" text-anchor="middle">0.30</text>
<text class="t" x="236.0" y="471.3" text-anchor="middle">0.35</text>
<text class="t" x="265.3" y="471.3" text-anchor="middle">0.40</text>
<text class="h" x="125.6" y="482.7" textLength="44.6" lengthAdjust="spacingAndGlyphs">Poisson ratio</text>
<text class="h" transform="translate(8.8 394.5) rotate(-90)" x="-27.9" y="2.6" textLength="55.8" lengthAdjust="spacingAndGlyphs">Elastic modulus</text>
<path class="tb" d="M112.0 403.7L229.0 407.5"/>
<path class="tr" d="M112 403.0h1.1v1.1h-1.1zM114 403.1h1.1v1.1h-1.1zM116 403.2h1.1v1.1h-1.1zM118 403.2h1.1v1.1h-1.1zM120 403.3h1.1v1.1h-1.1zM122 403.4h1.1v1.1h-1.1zM124 403.4h1.1v1.1h-1.1zM126 403.5h1.1v1.1h-1.1zM128 403.6h1.1v1.1h-1.1zM130 403.6h1.1v1.1h-1.1zM132 403.7h1.1v1.1h-1.1zM134 403.8h1.1v1.1h-1.1zM136 403.8h1.1v1.1h-1.1zM138 403.9h1.1v1.1h-1.1zM140 403.9h1.1v1.1h-1.1zM142 404.0h1.1v1.1h-1.1zM144 404.1h1.1v1.1h-1.1zM146 404.1h1.1v1.1h-1.1zM148 404.2h1.1v1.1h-1.1zM150 404.3h1.1v1.1h-1.1zM152 404.3h1.1v1.1h-1.1zM154 404.4h1.1v1.1h-1.1zM156 404.5h1.1v1.1h-1.1zM158 404.5h1.1v1.1h-1.1zM160 404.6h1.1v1.1h-1.1zM162 404.7h1.1v1.1h-1.1zM164 404.7h1.1v1.1h-1.1zM166 404.8h1.1v1.1h-1.1zM168 404.9h1.1v1.1h-1.1zM170 404.9h1.1v1.1h-1.1zM172 405.0h1.1v1.1h-1.1zM174 405.1h1.1v1.1h-1.1zM176 405.1h1.1v1.1h-1.1zM178 405.2h1.1v1.1h-1.1zM180 405.3h1.1v1.1h-1.1zM182 405.3h1.1v1.1h-1.1zM184 405.4h1.1v1.1h-1.1zM186 405.5h1.1v1.1h-1.1zM188 405.5h1.1v1.1h-1.1zM190 405.6h1.1v1.1h-1.1zM192 405.6h1.1v1.1h-1.1zM194 405.7h1.1v1.1h-1.1zM196 405.8h1.1v1.1h-1.1zM198 405.8h1.1v1.1h-1.1zM200 405.9h1.1v1.1h-1.1zM202 406.0h1.1v1.1h-1.1zM204 406.0h1.1v1.1h-1.1zM206 406.1h1.1v1.1h-1.1zM208 406.2h1.1v1.1h-1.1zM210 406.2h1.1v1.1h-1.1zM212 406.3h1.1v1.1h-1.1zM214 406.4h1.1v1.1h-1.1zM216 406.4h1.1v1.1h-1.1zM218 406.5h1.1v1.1h-1.1zM220 406.6h1.1v1.1h-1.1zM222 406.6h1.1v1.1h-1.1zM224 406.7h1.1v1.1h-1.1zM226 406.8h1.1v1.1h-1.1zM228 406.8h1.1v1.1h-1.1z"/>
<circle class="m" cx="136.55" cy="368.50" r="1.52"/>
<circle class="m" cx="136.55" cy="383.30" r="1.52"/>
<circle class="m" cx="113.25" cy="386.10" r="1.52"/>
<circle class="m" cx="124.75" cy="386.10" r="1.52"/>
<circle class="m" cx="124.75" cy="397.70" r="1.52"/>
<circle class="m" cx="118.95" cy="405.20" r="1.52"/>
<circle class="m" cx="130.35" cy="408.30" r="1.52"/>
<circle class="m" cx="130.35" cy="409.30" r="1.52"/>
<circle class="m" cx="130.35" cy="431.60" r="1.52"/>
<circle class="m" cx="118.95" cy="436.40" r="1.52"/>
<circle class="m" cx="136.55" cy="442.10" r="1.52"/>
<circle class="m" cx="159.75" cy="336.90" r="1.52"/>
<circle class="m" cx="171.35" cy="362.20" r="1.52"/>
<circle class="m" cx="188.95" cy="381.30" r="1.52"/>
<circle class="m" cx="159.75" cy="384.30" r="1.52"/>
<circle class="m" cx="165.55" cy="386.40" r="1.52"/>
<circle class="m" cx="188.95" cy="387.10" r="1.52"/>
<circle class="m" cx="200.75" cy="387.10" r="1.52"/>
<circle class="m" cx="206.75" cy="386.40" r="1.52"/>
<circle class="m" cx="148.25" cy="393.40" r="1.52"/>
<circle class="m" cx="153.95" cy="392.40" r="1.52"/>
<circle class="m" cx="159.75" cy="392.90" r="1.52"/>
<circle class="m" cx="183.15" cy="394.90" r="1.52"/>
<circle class="m" cx="224.05" cy="397.70" r="1.52"/>
<circle class="m" cx="229.85" cy="396.40" r="1.52"/>
<circle class="m" cx="229.85" cy="397.70" r="1.52"/>
<circle class="m" cx="142.45" cy="399.90" r="1.52"/>
<circle class="m" cx="165.55" cy="401.90" r="1.52"/>
<circle class="m" cx="171.35" cy="402.50" r="1.52"/>
<circle class="m" cx="171.35" cy="403.50" r="1.52"/>
<circle class="m" cx="177.35" cy="401.30" r="1.52"/>
<circle class="m" cx="177.35" cy="402.80" r="1.52"/>
<circle class="m" cx="188.95" cy="406.50" r="1.52"/>
<circle class="m" cx="148.25" cy="410.70" r="1.52"/>
<circle class="m" cx="224.05" cy="410.20" r="1.52"/>
<circle class="m" cx="171.35" cy="414.20" r="1.52"/>
<circle class="m" cx="177.35" cy="415.00" r="1.52"/>
<circle class="m" cx="159.75" cy="416.00" r="1.52"/>
<circle class="m" cx="159.75" cy="419.50" r="1.52"/>
<circle class="m" cx="200.75" cy="418.80" r="1.52"/>
<circle class="m" cx="206.75" cy="419.80" r="1.52"/>
<circle class="m" cx="206.75" cy="421.50" r="1.52"/>
<circle class="m" cx="165.55" cy="428.60" r="1.52"/>
<circle class="m" cx="206.75" cy="428.60" r="1.52"/>
<circle class="m" cx="206.75" cy="429.80" r="1.52"/>
<circle class="m" cx="153.95" cy="434.10" r="1.52"/>
<circle class="m" cx="159.75" cy="432.80" r="1.52"/>
<circle class="m" cx="159.75" cy="433.60" r="1.52"/>
<circle class="m" cx="165.55" cy="433.10" r="1.52"/>
<circle class="m" cx="206.75" cy="448.50" r="1.52"/>
<rect x="48.5" y="341.3" width="76.6" height="20.7" fill="#fccf63" filter="url(#g)"/>
<rect x="50.5" y="343.3" width="72.6" height="16.7" fill="#fddb8b" filter="url(#g2)"/>
<text class="r" x="61.3" y="354.1" textLength="49.8" lengthAdjust="spacingAndGlyphs"><tspan font-style="italic">R</tspan> <tspan class="e" dy="1.0">=</tspan><tspan dy="-1.0"> </tspan><tspan class="e" dy="1.0">−</tspan><tspan dy="-1.0"> </tspan>0. 0536</text>
</g>
<g>
<path class="ax" d="M305.6 332.5V458.5H539.8"/>
<text class="t" x="297.8" y="460.9" text-anchor="end">0</text>
<text class="t" x="297.8" y="446.9" text-anchor="end">5</text>
<text class="t" x="297.8" y="432.9" text-anchor="end">10</text>
<text class="t" x="297.8" y="419.0" text-anchor="end">15</text>
<text class="t" x="297.8" y="405.0" text-anchor="end">20</text>
<text class="t" x="297.8" y="391.0" text-anchor="end">25</text>
<text class="t" x="297.8" y="377.0" text-anchor="end">30</text>
<text class="t" x="297.8" y="363.0" text-anchor="end">35</text>
<text class="t" x="297.8" y="349.1" text-anchor="end">40</text>
<text class="t" x="297.8" y="335.1" text-anchor="end">45</text>
<text class="t" x="306.1" y="472.5" text-anchor="middle">2.00</text>
<text class="t" x="352.7" y="472.5" text-anchor="middle">3.00</text>
<text class="t" x="399.5" y="472.5" text-anchor="middle">4.00</text>
<text class="t" x="446.5" y="472.5" text-anchor="middle">5.00</text>
<text class="t" x="493.1" y="472.5" text-anchor="middle">6.00</text>
<text class="t" x="539.8" y="472.5" text-anchor="middle">7.00</text>
<text class="h" x="394.1" y="483.9" textLength="56.1" lengthAdjust="spacingAndGlyphs">P-wave velocity</text>
<text class="h" transform="translate(282.3 395.5) rotate(-90)" x="-27.9" y="2.6" textLength="55.8" lengthAdjust="spacingAndGlyphs">Elastic modulus</text>
<path class="tb" d="M351.0 427.4L524.0 397.2"/>
<path class="tr" d="M351 426.8h1.1v1.1h-1.1zM353 426.4h1.1v1.1h-1.1zM355 426.1h1.1v1.1h-1.1zM357 425.7h1.1v1.1h-1.1zM359 425.4h1.1v1.1h-1.1zM361 425.0h1.1v1.1h-1.1zM363 424.7h1.1v1.1h-1.1zM365 424.3h1.1v1.1h-1.1zM367 424.0h1.1v1.1h-1.1zM369 423.6h1.1v1.1h-1.1zM371 423.2h1.1v1.1h-1.1zM373 422.9h1.1v1.1h-1.1zM375 422.5h1.1v1.1h-1.1zM377 422.2h1.1v1.1h-1.1zM379 421.8h1.1v1.1h-1.1zM381 421.5h1.1v1.1h-1.1zM383 421.1h1.1v1.1h-1.1zM385 420.8h1.1v1.1h-1.1zM387 420.4h1.1v1.1h-1.1zM389 420.1h1.1v1.1h-1.1zM391 419.7h1.1v1.1h-1.1zM393 419.4h1.1v1.1h-1.1zM395 419.0h1.1v1.1h-1.1zM397 418.7h1.1v1.1h-1.1zM399 418.3h1.1v1.1h-1.1zM401 418.0h1.1v1.1h-1.1zM403 417.6h1.1v1.1h-1.1zM405 417.3h1.1v1.1h-1.1zM407 416.9h1.1v1.1h-1.1zM409 416.6h1.1v1.1h-1.1zM411 416.2h1.1v1.1h-1.1zM413 415.8h1.1v1.1h-1.1zM415 415.5h1.1v1.1h-1.1zM417 415.1h1.1v1.1h-1.1zM419 414.8h1.1v1.1h-1.1zM421 414.4h1.1v1.1h-1.1zM423 414.1h1.1v1.1h-1.1zM425 413.7h1.1v1.1h-1.1zM427 413.4h1.1v1.1h-1.1zM429 413.0h1.1v1.1h-1.1zM431 412.7h1.1v1.1h-1.1zM433 412.3h1.1v1.1h-1.1zM435 412.0h1.1v1.1h-1.1zM437 411.6h1.1v1.1h-1.1zM439 411.3h1.1v1.1h-1.1zM441 410.9h1.1v1.1h-1.1zM443 410.6h1.1v1.1h-1.1zM445 410.2h1.1v1.1h-1.1zM447 409.9h1.1v1.1h-1.1zM449 409.5h1.1v1.1h-1.1zM451 409.2h1.1v1.1h-1.1zM453 408.8h1.1v1.1h-1.1zM455 408.5h1.1v1.1h-1.1zM457 408.1h1.1v1.1h-1.1zM459 407.7h1.1v1.1h-1.1zM461 407.4h1.1v1.1h-1.1zM463 407.0h1.1v1.1h-1.1zM465 406.7h1.1v1.1h-1.1zM467 406.3h1.1v1.1h-1.1zM469 406.0h1.1v1.1h-1.1zM471 405.6h1.1v1.1h-1.1zM473 405.3h1.1v1.1h-1.1zM475 404.9h1.1v1.1h-1.1zM477 404.6h1.1v1.1h-1.1zM479 404.2h1.1v1.1h-1.1zM481 403.9h1.1v1.1h-1.1zM483 403.5h1.1v1.1h-1.1zM485 403.2h1.1v1.1h-1.1zM487 402.8h1.1v1.1h-1.1zM489 402.5h1.1v1.1h-1.1zM491 402.1h1.1v1.1h-1.1zM493 401.8h1.1v1.1h-1.1zM495 401.4h1.1v1.1h-1.1zM497 401.1h1.1v1.1h-1.1zM499 400.7h1.1v1.1h-1.1zM501 400.4h1.1v1.1h-1.1zM503 400.0h1.1v1.1h-1.1zM505 399.6h1.1v1.1h-1.1zM507 399.3h1.1v1.1h-1.1zM509 398.9h1.1v1.1h-1.1zM511 398.6h1.1v1.1h-1.1zM513 398.2h1.1v1.1h-1.1zM515 397.9h1.1v1.1h-1.1zM517 397.5h1.1v1.1h-1.1zM519 397.2h1.1v1.1h-1.1zM521 396.8h1.1v1.1h-1.1zM523 396.5h1.1v1.1h-1.1z"/>
<circle class="m" cx="351.25" cy="420.50" r="1.52"/>
<circle class="m" cx="388.45" cy="434.60" r="1.52"/>
<circle class="m" cx="413.05" cy="397.70" r="1.52"/>
<circle class="m" cx="522.75" cy="338.10" r="1.52"/>
<circle class="m" cx="470.95" cy="363.50" r="1.52"/>
<circle class="m" cx="472.25" cy="370.00" r="1.52"/>
<circle class="m" cx="495.05" cy="383.10" r="1.52"/>
<circle class="m" cx="495.35" cy="385.60" r="1.52"/>
<circle class="m" cx="506.15" cy="384.80" r="1.52"/>
<circle class="m" cx="422.75" cy="387.60" r="1.52"/>
<circle class="m" cx="467.45" cy="387.60" r="1.52"/>
<circle class="m" cx="484.55" cy="386.90" r="1.52"/>
<circle class="m" cx="483.55" cy="388.40" r="1.52"/>
<circle class="m" cx="500.05" cy="387.10" r="1.52"/>
<circle class="m" cx="498.55" cy="388.60" r="1.52"/>
<circle class="m" cx="446.05" cy="393.90" r="1.52"/>
<circle class="m" cx="496.85" cy="393.60" r="1.52"/>
<circle class="m" cx="501.85" cy="396.20" r="1.52"/>
<circle class="m" cx="513.95" cy="394.90" r="1.52"/>
<circle class="m" cx="433.75" cy="398.70" r="1.52"/>
<circle class="m" cx="434.75" cy="399.40" r="1.52"/>
<circle class="m" cx="478.45" cy="398.90" r="1.52"/>
<circle class="m" cx="438.55" cy="401.40" r="1.52"/>
<circle class="m" cx="436.05" cy="403.20" r="1.52"/>
<circle class="m" cx="513.95" cy="403.40" r="1.52"/>
<circle class="m" cx="458.15" cy="404.20" r="1.52"/>
<circle class="m" cx="459.85" cy="403.90" r="1.52"/>
<circle class="m" cx="464.15" cy="404.90" r="1.52"/>
<circle class="m" cx="464.15" cy="407.50" r="1.52"/>
<circle class="m" cx="490.05" cy="406.50" r="1.52"/>
<circle class="m" cx="464.45" cy="410.00" r="1.52"/>
<circle class="m" cx="442.05" cy="411.20" r="1.52"/>
<circle class="m" cx="452.65" cy="411.00" r="1.52"/>
<circle class="m" cx="491.55" cy="412.00" r="1.52"/>
<circle class="m" cx="467.45" cy="415.80" r="1.52"/>
<circle class="m" cx="438.55" cy="416.50" r="1.52"/>
<circle class="m" cx="496.35" cy="417.50" r="1.52"/>
<circle class="m" cx="446.55" cy="420.00" r="1.52"/>
<circle class="m" cx="505.65" cy="421.50" r="1.52"/>
<circle class="m" cx="427.75" cy="423.30" r="1.52"/>
<circle class="m" cx="433.75" cy="430.10" r="1.52"/>
<circle class="m" cx="461.85" cy="430.10" r="1.52"/>
<circle class="m" cx="443.05" cy="431.60" r="1.52"/>
<circle class="m" cx="489.75" cy="432.80" r="1.52"/>
<circle class="m" cx="492.55" cy="434.30" r="1.52"/>
<circle class="m" cx="468.95" cy="434.10" r="1.52"/>
<circle class="m" cx="461.35" cy="435.60" r="1.52"/>
<circle class="m" cx="489.05" cy="437.90" r="1.52"/>
<circle class="m" cx="516.95" cy="443.10" r="1.52"/>
<circle class="m" cx="441.05" cy="449.50" r="1.52"/>
<rect x="325.3" y="341.5" width="76.6" height="20.6" fill="#fccf63" filter="url(#g)"/>
<rect x="327.3" y="343.5" width="72.6" height="16.6" fill="#fddb8b" filter="url(#g2)"/>
<text class="r" x="341.3" y="353.7" textLength="43.7" lengthAdjust="spacingAndGlyphs"><tspan font-style="italic">R</tspan> <tspan class="e" dy="1.0">=</tspan><tspan dy="-1.0"> </tspan>0. 2812</text>
</g>
</svg></body></html>
